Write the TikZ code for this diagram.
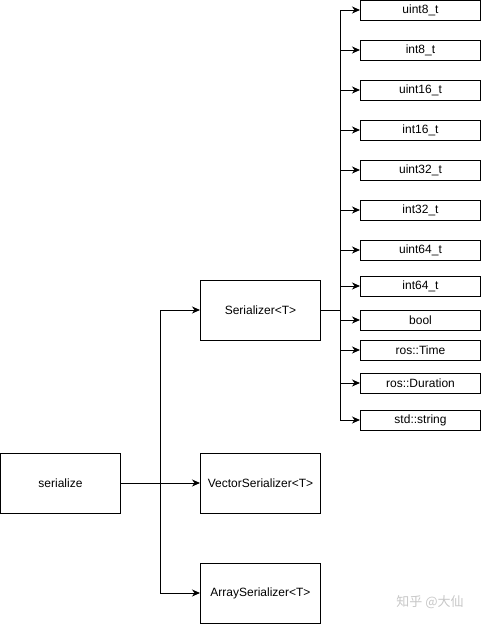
\documentclass[tikz,border=0pt]{standalone}
\usepackage{fontspec}
\setmainfont{Liberation Sans}
\newfontfamily\cjkfont{Noto Sans CJK SC}
\usetikzlibrary{arrows.meta}
\tikzset{
  bigbox/.style={draw=black, line width=1pt, minimum width=120pt, minimum height=60pt, inner sep=0pt, font=\fontsize{12}{14}\selectfont},
  leafbox/.style={draw=black, line width=1pt, minimum width=120pt, minimum height=20pt, inner sep=0pt, font=\fontsize{12}{14}\selectfont},
  arr/.style={line width=1pt, -{Stealth[length=8pt,width=7pt,inset=2.5pt]}},
}
\begin{document}
\begin{tikzpicture}[x=1pt,y=-1pt]
\useasboundingbox (0,0) rectangle (481,624);
% main boxes
\node[bigbox] (ser) at (60.5,483) {serialize};
\node[bigbox] (S) at (260.5,310) {Serializer<T>};
\node[bigbox] (V) at (260.5,483) {VectorSerializer<T>};
\node[bigbox] (A) at (260.5,593) {ArraySerializer<T>};
% leaf boxes
\node[leafbox] (l1) at (420.5,10) {uint8\_t};
\node[leafbox] (l2) at (420.5,50) {int8\_t};
\node[leafbox] (l3) at (420.5,90) {uint16\_t};
\node[leafbox] (l4) at (420.5,130) {int16\_t};
\node[leafbox] (l5) at (420.5,170) {uint32\_t};
\node[leafbox] (l6) at (420.5,210) {int32\_t};
\node[leafbox] (l7) at (420.5,250) {uint64\_t};
\node[leafbox] (l8) at (420.5,286) {int64\_t};
\node[leafbox] (l9) at (420.5,320) {bool};
\node[leafbox] (l10) at (420.5,350) {ros::Time};
\node[leafbox] (l11) at (420.5,383) {ros::Duration};
\node[leafbox] (l12) at (420.5,420) {std::string};
% junctions
\coordinate (j1) at (160.5,483);
\coordinate (j2) at (340.5,310);
% connectors from serialize
\draw[arr] (ser.east) -- (V.west);
\draw[arr] (ser.east) -- (j1) |- (S.west);
\draw[arr] (ser.east) -- (j1) |- (A.west);
% connectors from Serializer
\foreach \n in {l1,l2,l3,l4,l5,l6,l7,l8,l9,l10,l11,l12}{
  \draw[arr] (S.east) -- (j2) |- (\n.west);
}
% watermark
\node[text=black!22, font=\cjkfont\fontsize{13}{15}\selectfont, inner sep=0pt] (wm) at (430,602) {知乎 @大仙};
\end{tikzpicture}
\end{document}
